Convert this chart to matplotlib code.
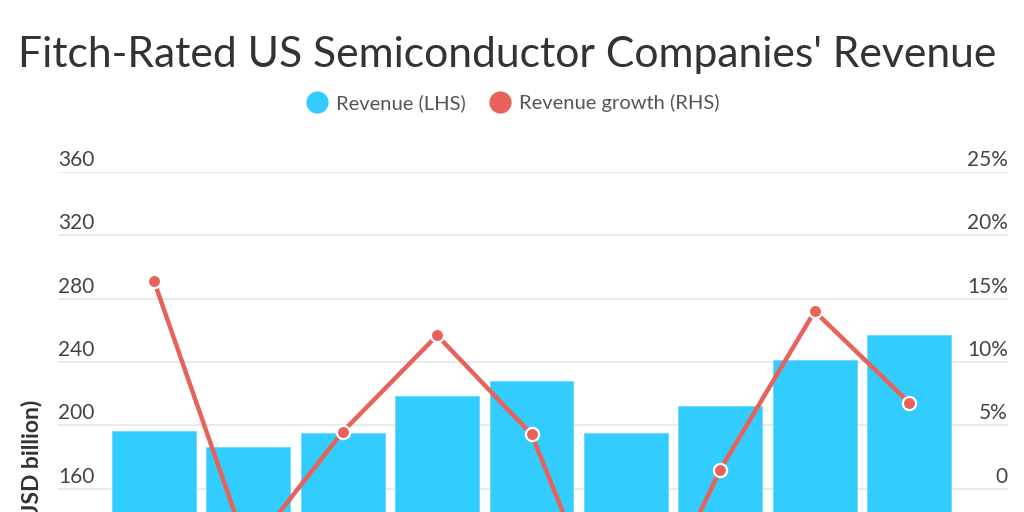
import matplotlib
matplotlib.use("Agg")
import matplotlib.pyplot as plt
import matplotlib.transforms as mtransforms
from matplotlib.lines import Line2D

plt.rcParams['font.family'] = ['Lato', 'DejaVu Sans']

# data (the chart is cut off at the bottom)
periods = list(range(9))
revenue = [196.5, 186.5, 195.3, 218.7, 228.1, 195.0, 212.4, 241.4, 257.2]   # USD bn, LHS
growth = [16.4, -5.0, 4.5, 12.1, 4.3, -14.2, 1.5, 14.0, 6.8]                # %, RHS

left_ticks = [0, 40, 80, 120, 160, 200, 240, 280, 320, 360]
right_ticks = [-20, -15, -10, -5, 0, 5, 10, 15, 20, 25]
right_labels = [f"{t}%" if t != 0 else "0" for t in right_ticks]

BLUE = '#33CCFF'
RED = '#E8625A'
GRID = '#E6E6E6'
TICK_COL = '#444444'

W, H = 1024, 512
fig = plt.figure(figsize=(W / 100, H / 100), dpi=100)

# plot area: gridlines from x=58 to 1008 px, top at 172 px, bottom below the crop
x0, x1 = 58, 1008
y_top, y_bot = 172, 742
ax = fig.add_axes([x0 / W, (H - y_bot) / H, (x1 - x0) / W, (y_bot - y_top) / H])
ax2 = ax.twinx()

# category centres: first at 154 px, spacing ~94.4 px
step = 94.375
ax.set_xlim((x0 - 154) / step, (x1 - 154) / step)
ax.set_ylim(left_ticks[0], left_ticks[-1])
ax2.set_ylim(right_ticks[0], right_ticks[-1])

for a in (ax, ax2):
    for s in a.spines.values():
        s.set_visible(False)
    a.set_xticks([])
    a.set_yticks([])

# gridlines
for t in left_ticks:
    ax.axhline(t, color=GRID, lw=1.2, zorder=0)

ax.bar(periods, revenue, width=0.89, color=BLUE, edgecolor='#66D9FF',
       linewidth=0.6, zorder=2)
ax2.plot(periods, growth, color=RED, lw=3.2, marker='o', markersize=9.5,
         markerfacecolor=RED, markeredgecolor='white', markeredgewidth=1.6,
         zorder=3)

# tick labels sit just above the gridlines
trans_l = mtransforms.blended_transform_factory(ax.transAxes, ax.transData)
for t in left_ticks:
    ax.annotate(str(t), xy=(0, t), xycoords=trans_l, xytext=(0, 2),
                textcoords='offset pixels', ha='left', va='bottom',
                fontsize=15, color=TICK_COL, annotation_clip=False)
trans_r = mtransforms.blended_transform_factory(ax2.transAxes, ax2.transData)
for t, lab in zip(right_ticks, right_labels):
    ax2.annotate(lab, xy=(1, t), xycoords=trans_r, xytext=(0, 2),
                 textcoords='offset pixels', ha='right', va='bottom',
                 fontsize=15, color=TICK_COL, annotation_clip=False)

# axis title, cut by the bottom edge as in the reference
fig.text(31 / W, (H - 400) / H, "(USD billion)", rotation=90, ha='center',
         va='top', fontsize=16.5, fontweight='bold', color='#333333')

fig.text(0.4956, 1 - 67.5 / H, "Fitch-Rated US Semiconductor Companies' Revenue",
         ha='center', va='baseline', fontsize=30.7, color='#333333')

handles = [Line2D([], [], ls='none', marker='o', markersize=15, color=BLUE),
           Line2D([], [], ls='none', marker='o', markersize=15, color=RED)]
leg = fig.legend(handles, ['Revenue (LHS)', 'Revenue growth (RHS)'],
                 loc='center', bbox_to_anchor=(0.5, 1 - 103 / H), ncol=2,
                 frameon=False, fontsize=14.5, handletextpad=0.35,
                 columnspacing=1.1, handlelength=1.2)
for txt in leg.get_texts():
    txt.set_color('#555555')

fig.savefig('out.png', dpi=100)
